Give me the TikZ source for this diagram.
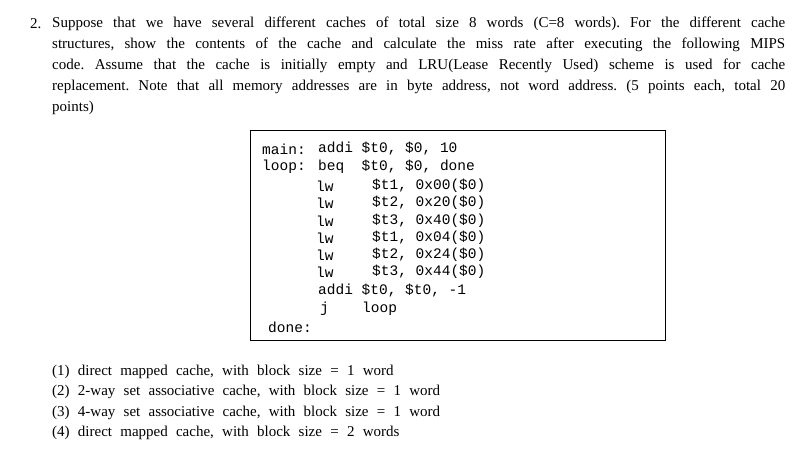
\documentclass[tikz,border=0pt]{standalone}
\usepackage{fontspec}
\setmainfont{Liberation Serif}
\setmonofont{Liberation Mono}
\frenchspacing
\newcommand{\wideitem}[1]{{\spaceskip=0.55em\relax #1}}
\begin{document}
\begin{tikzpicture}[x=1pt,y=-1pt,
  txt/.style={anchor=west,inner sep=0pt,font=\fontsize{15}{21}\selectfont},
  code/.style={anchor=west,inner sep=0pt,font=\ttfamily\fontsize{14.5}{17}\selectfont}]
\useasboundingbox (0,0) rectangle (805,460);
\node[txt] (num) at (30,24) {2.};
\node[txt,anchor=north west,text width=733pt,align=justify] (para) at (52,16.5)
{Suppose that we have several different caches of total size 8 words (C=8 words). For the different cache\linebreak
structures, show the contents of the cache and calculate the miss rate after executing the following MIPS\linebreak
code. Assume that the cache is initially empty and LRU(Lease Recently Used) scheme is used for cache\linebreak
replacement. Note that all memory addresses are in byte address, not word address. (5 points each, total 20\linebreak
points)};
\node[draw,line width=0.6pt,minimum width=415pt,minimum height=210pt,anchor=north west,inner sep=0pt] (box) at (250,130) {};
\node[code] (l1a) at (262,149) {main:};
\node[code] (l1b) at (318,149) {addi \$t0, \$0, 10};
\node[code] (l2a) at (262,167) {loop:};
\node[code] (l2b) at (318,167) {beq\ \ \$t0, \$0, done};
\foreach \y/\r/\a [count=\i] in {186/t1/0x00,203/t2/0x20,221/t3/0x40,238/t1/0x04,255/t2/0x24,272/t3/0x44}{
  \node[code] (lw\i) at (316,\y) {lw};
  \node[code] (arg\i) at (372,\y) {\$\r, \a(\$0)};
}
\node[code] (l9) at (318,291) {addi \$t0, \$t0, -1};
\node[code] (l10a) at (320,309) {j};
\node[code] (l10b) at (362,309) {loop};
\node[code] (l11) at (268,327) {done:};
\node[txt] (i1) at (52,372) {\wideitem{(1) direct mapped cache, with block size = 1 word}};
\node[txt] (i2) at (52,392) {\wideitem{(2) 2-way set associative cache, with block size = 1 word}};
\node[txt] (i3) at (52,413) {\wideitem{(3) 4-way set associative cache, with block size = 1 word}};
\node[txt] (i4) at (52,433) {\wideitem{(4) direct mapped cache, with block size = 2 words}};
\end{tikzpicture}
\end{document}
